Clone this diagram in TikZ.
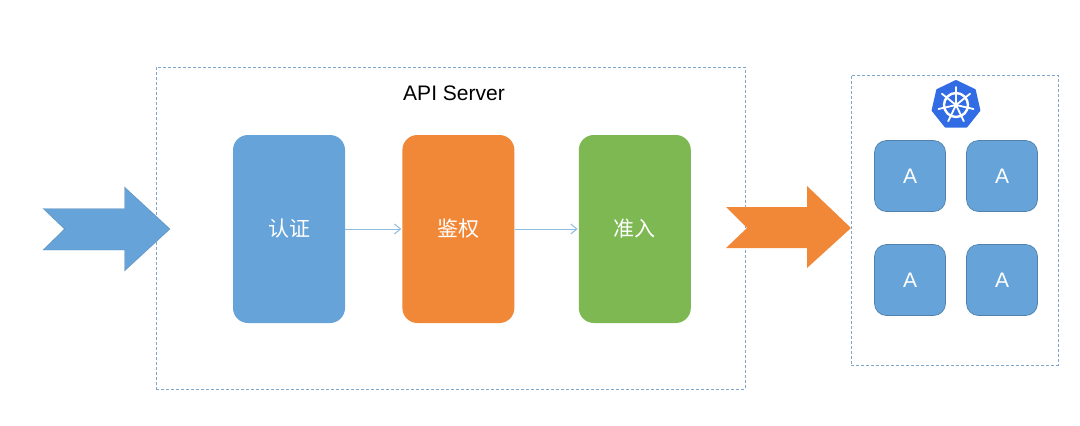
\documentclass[tikz,border=0pt]{standalone}
\usepackage{fontspec}
\setmainfont{Liberation Sans}
\newfontfamily\cjk{Noto Sans CJK SC}
\usetikzlibrary{arrows.meta,positioning}
\definecolor{gateblue}{HTML}{65A3D9}
\definecolor{gateorange}{HTML}{F18838}
\definecolor{gategreen}{HTML}{7EB853}
\definecolor{k8sblue}{HTML}{326CE5}
\definecolor{framegrey}{HTML}{7FA6C8}
\definecolor{linkblue}{HTML}{8FBBDD}

\begin{document}
\begin{tikzpicture}[x=1pt,y=-1pt,>={Straight Barb[length=6pt,width=10pt]},shorten >=1pt,
                    font=\fontsize{21}{25}\selectfont]
  \tikzstyle{gatebox}=[rounded corners=15pt,minimum width=112pt,minimum height=188pt,
                    text=white,inner sep=0pt,font=\fontsize{21}{25}\selectfont\cjk]
  \tikzstyle{dashframe}=[draw=framegrey,dash pattern=on 3pt off 2pt,line width=0.8pt,inner sep=0pt]
  \tikzstyle{podbox}=[draw=gateblue!80!black,fill=gateblue,rounded corners=12pt,line width=0.7pt,
                   minimum size=71pt,inner sep=0pt,text=white]
  \tikzstyle{linkline}=[draw=linkblue,line width=1pt,->]
  \useasboundingbox (0,0) rectangle (1080,426);

  \node[dashframe,minimum width=589pt,minimum height=322pt] (server) at (450.5,228) {};
  \node[dashframe,minimum width=207pt,minimum height=290pt] (cluster) at (954.5,220) {};
  \node (title) at (454,93) {API Server};

  \node[gatebox,fill=gateblue]   (authn) at (289,229)         {认证};
  \node[gatebox,fill=gateorange] (authz) [right=57pt of authn] {鉴权};
  \node[gatebox,fill=gategreen]  (admit) [right=64pt of authz] {准入};
  \draw[linkline] (authn) -- (authz);
  \draw[linkline] (authz) -- (admit);

  % big arrows
  \fill[gateblue] (43,208.5) -- (124.5,208.5) -- (124.5,187) -- (170,229) -- (124.5,271)
        -- (124.5,250) -- (43,250) -- (64.5,229) -- cycle;
  \draw[gateblue!70!black,line width=0.4pt,opacity=0.6] (43,208.5) -- (124.5,208.5) -- (124.5,187) -- (170,229) -- (124.5,271)
        -- (124.5,250) -- (43,250) -- (64.5,229) -- cycle;
  \fill[gateorange] (726,207) -- (807,207) -- (807,186) -- (851,228) -- (807,268)
        -- (807,248) -- (726,248) -- (747,228) -- cycle;

  % pods
  \node[podbox] (pod1) at (910,176) {A};
  \node[podbox] (pod2) at (1002,176) {A};
  \node[podbox] (pod3) at (910,280) {A};
  \node[podbox] (pod4) at (1002,280) {A};

  % k8s logo
  \begin{scope}[shift={(956,105)}]
    \fill[k8sblue,draw=k8sblue,line width=2pt,line join=round]
      (-90:24) -- (-38.6:24) -- (12.9:24) -- (64.3:24) -- (115.7:24) -- (167.1:24) -- (218.6:24) -- cycle;
    \draw[white,line width=2.4pt] (0,0) circle (12);
    \fill[white] (0,0) circle (2.5);
    \foreach \a in {-90,-38.6,12.9,64.3,115.7,167.1,218.6} {
      \draw[white,line width=1.8pt,line cap=round] (\a:2) -- (\a:19);
    }
  \end{scope}
\end{tikzpicture}
\end{document}
